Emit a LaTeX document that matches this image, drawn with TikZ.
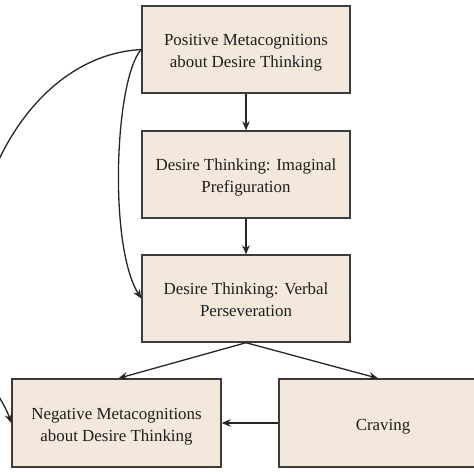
\documentclass[tikz,border=0pt]{standalone}
\usepackage{fontspec}
\setmainfont{Liberation Serif}
\usetikzlibrary{arrows.meta,shadows}
\definecolor{boxfill}{RGB}{243,232,219}
\definecolor{boxline}{RGB}{60,60,60}
\definecolor{txt}{RGB}{30,30,30}
\newcommand{\boxtext}[1]{\raisebox{0pt}[\dimexpr\height+6pt\relax][\depth]{\begin{tabular}{@{}c@{}}#1\end{tabular}}}
\tikzset{
  stepbox/.style={draw=boxline, line width=1.4pt, fill=boxfill,
    minimum width=208pt, minimum height=87pt, inner sep=0pt,
    text=txt, font=\fontsize{16.9}{22}\selectfont,
    drop shadow={shadow xshift=1.2pt, shadow yshift=-1.2pt, opacity=0.35, fill=black}},
  conn/.style={draw=black!85, line width=1.3pt, -{Stealth[length=9pt,width=7.5pt]}}
}
\begin{document}
\begin{tikzpicture}[x=1pt,y=-1pt]
\useasboundingbox (0,0) rectangle (474,474);
\clip (0,0) rectangle (474,474);
\fill[white] (0,0) rectangle (474,474);
\node[stepbox] (n1) at (246,49.5) {\boxtext{Positive Metacognitions\\about Desire Thinking}};
\node[stepbox] (n2) at (246,174.5) {\boxtext{Desire Thinking: Imaginal\\Prefiguration}};
\node[stepbox] (n3) at (246,298.5) {\boxtext{Desire Thinking: Verbal\\Perseveration}};
\node[stepbox, minimum width=209pt, minimum height=88pt] (n4) at (116.5,423) {\boxtext{Negative Metacognitions\\about Desire Thinking}};
\node[stepbox, minimum height=88pt] (n5) at (383,423) {\boxtext{Craving}};
\draw[conn] (n1.south) -- (n2.north);
\draw[conn] (n2.south) -- (n3.north);
\draw[conn] (n3.south) -- ([xshift=2pt]n4.north);
\draw[conn] (n3.south) -- ([xshift=-5pt]n5.north);
\draw[conn] (n5.west) -- (n4.east);
\draw[conn] (n1.west) .. controls (115,78) and (108,245) .. (n3.west);
\draw[conn] (n1.west) .. controls (40,55) and (-30,170) .. (-30,290) .. controls (-30,370) and (0,390) .. (n4.west);
\end{tikzpicture}
\end{document}
